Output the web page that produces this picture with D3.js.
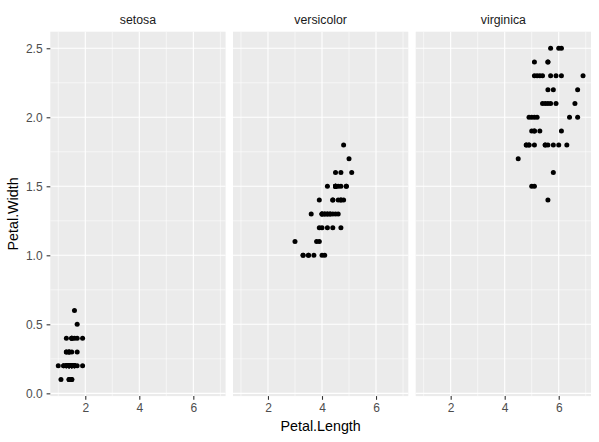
<!DOCTYPE html>
<html><head><meta charset="utf-8">
<script src="https://cdn.jsdelivr.net/npm/d3@7"></script>
<style>body{margin:0;background:#fff}svg{display:block;font-family:"Liberation Sans",Arial,sans-serif}</style>
</head><body><svg id="c" width="599" height="442"></svg>
<script>
const species = ["setosa","versicolor","virginica"];
const petalLength = {
 setosa:[1.4,1.4,1.3,1.5,1.4,1.7,1.4,1.5,1.4,1.5,1.5,1.6,1.4,1.1,1.2,1.5,1.3,1.4,1.7,1.5,1.7,1.5,1.0,1.7,1.9,1.6,1.6,1.5,1.4,1.6,1.6,1.5,1.5,1.4,1.5,1.2,1.3,1.4,1.3,1.5,1.3,1.3,1.3,1.6,1.9,1.4,1.6,1.4,1.5,1.4],
 versicolor:[4.7,4.5,4.9,4.0,4.6,4.5,4.7,3.3,4.6,3.9,3.5,4.2,4.0,4.7,3.6,4.4,4.5,4.1,4.5,3.9,4.8,4.0,4.9,4.7,4.3,4.4,4.8,5.0,4.5,3.5,3.8,3.7,3.9,5.1,4.5,4.5,4.7,4.4,4.1,4.0,4.4,4.6,4.0,3.3,4.2,4.2,4.2,4.3,3.0,4.1],
 virginica:[6.0,5.1,5.9,5.6,5.8,6.6,4.5,6.3,5.8,6.1,5.1,5.3,5.5,5.0,5.1,5.3,5.5,6.7,6.9,5.0,5.7,4.9,6.7,4.9,5.7,6.0,4.8,4.9,5.6,5.8,6.1,6.4,5.6,5.1,5.6,6.1,5.6,5.5,4.8,5.4,5.6,5.1,5.1,5.9,5.7,5.2,5.0,5.2,5.4,5.1]
};
const petalWidth = {
 setosa:[0.2,0.2,0.2,0.2,0.2,0.4,0.3,0.2,0.2,0.1,0.2,0.2,0.1,0.1,0.2,0.4,0.4,0.3,0.3,0.3,0.2,0.4,0.2,0.5,0.2,0.2,0.4,0.2,0.2,0.2,0.2,0.4,0.1,0.2,0.2,0.2,0.2,0.1,0.2,0.2,0.3,0.3,0.2,0.6,0.4,0.3,0.2,0.2,0.2,0.2],
 versicolor:[1.4,1.5,1.5,1.3,1.5,1.3,1.6,1.0,1.3,1.4,1.0,1.5,1.0,1.4,1.3,1.4,1.5,1.0,1.5,1.1,1.8,1.3,1.5,1.2,1.3,1.4,1.4,1.7,1.5,1.0,1.1,1.0,1.2,1.6,1.5,1.6,1.5,1.3,1.3,1.3,1.2,1.4,1.2,1.0,1.3,1.2,1.3,1.3,1.1,1.3],
 virginica:[2.5,1.9,2.1,1.8,2.2,2.1,1.7,1.8,1.8,2.5,2.0,1.9,2.1,2.0,2.4,2.3,1.8,2.2,2.3,1.5,2.3,2.0,2.0,1.8,2.1,1.8,1.8,1.8,2.1,1.6,1.9,2.0,2.2,1.5,1.4,2.3,2.4,1.8,1.8,2.1,2.4,2.3,1.9,2.3,2.5,2.3,1.9,2.0,2.3,1.8]
};
const xTicks = [2,4,6];
const xMinor = [1,3,5,7];
const yTicks = [0.0,0.5,1.0,1.5,2.0,2.5];
const yMinor = [0.25,0.75,1.25,1.75,2.25];

const svg = d3.select("#c");
const panelLefts = [50.3, 233, 415.7];
const panelW = 175.3;
const pTop = 31.7, pBottom = 396.1;
const x = d3.scaleLinear().domain([0.705, 7.195]).range([0, panelW]);
const y = d3.scaleLinear().domain([-0.02, 2.62]).range([pBottom, pTop]);
const FONT = "Liberation Sans, Arial, sans-serif";

species.forEach((sp, i) => {
  const g = svg.append("g").attr("transform", `translate(${panelLefts[i]},0)`);
  g.append("rect").attr("x",0).attr("y",pTop).attr("width",panelW).attr("height",pBottom-pTop).attr("fill","#ebebeb");
  g.selectAll(".xm").data(xMinor).join("line").attr("class","xm").attr("x1",d=>x(d)).attr("x2",d=>x(d)).attr("y1",pTop).attr("y2",pBottom).attr("stroke","#fff").attr("stroke-width",0.55);
  g.selectAll(".ym").data(yMinor).join("line").attr("class","ym").attr("y1",d=>y(d)).attr("y2",d=>y(d)).attr("x1",0).attr("x2",panelW).attr("stroke","#fff").attr("stroke-width",0.55);
  g.selectAll(".xM").data(xTicks).join("line").attr("class","xM").attr("x1",d=>x(d)).attr("x2",d=>x(d)).attr("y1",pTop).attr("y2",pBottom).attr("stroke","#fff").attr("stroke-width",1.1);
  g.selectAll(".yM").data(yTicks).join("line").attr("class","yM").attr("y1",d=>y(d)).attr("y2",d=>y(d)).attr("x1",0).attr("x2",panelW).attr("stroke","#fff").attr("stroke-width",1.1);
  g.append("text").attr("x",panelW/2).attr("y",24).attr("text-anchor","middle").attr("font-size","12.3px").attr("fill","#1a1a1a").text(sp);
  const pts = petalLength[sp].map((v,j)=>[v, petalWidth[sp][j]]);
  g.selectAll("circle").data(pts).join("circle").attr("cx",d=>x(d[0])).attr("cy",d=>y(d[1])).attr("r",2.5).attr("fill","#000");
  const ax = d3.axisBottom(x).tickValues(xTicks).tickSize(3.7).tickPadding(4).tickFormat(d3.format("d"));
  const axg = g.append("g").attr("transform",`translate(0,${pBottom})`).call(ax);
  axg.select(".domain").remove();
  axg.selectAll("line").attr("stroke","#333").attr("stroke-width",1.1);
  axg.selectAll("text").attr("fill","#4d4d4d").attr("font-size","12px").attr("font-family",FONT);
});
const ay = d3.axisLeft(y).tickValues(yTicks).tickSize(3.7).tickPadding(4).tickFormat(d3.format(".1f"));
const ayg = svg.append("g").attr("transform",`translate(${panelLefts[0]},0)`).call(ay);
ayg.select(".domain").remove();
ayg.selectAll("line").attr("stroke","#333").attr("stroke-width",1.1);
ayg.selectAll("text").attr("fill","#4d4d4d").attr("font-size","12px").attr("font-family",FONT);
svg.append("text").attr("x",(panelLefts[0]+panelLefts[2]+panelW)/2).attr("y",430.5).attr("text-anchor","middle").attr("font-size","14.3px").attr("fill","#000").text("Petal.Length");
svg.append("text").attr("transform",`translate(17.5,${(pTop+pBottom)/2}) rotate(-90)`).attr("text-anchor","middle").attr("font-size","14.3px").attr("fill","#000").text("Petal.Width");
</script></body></html>
